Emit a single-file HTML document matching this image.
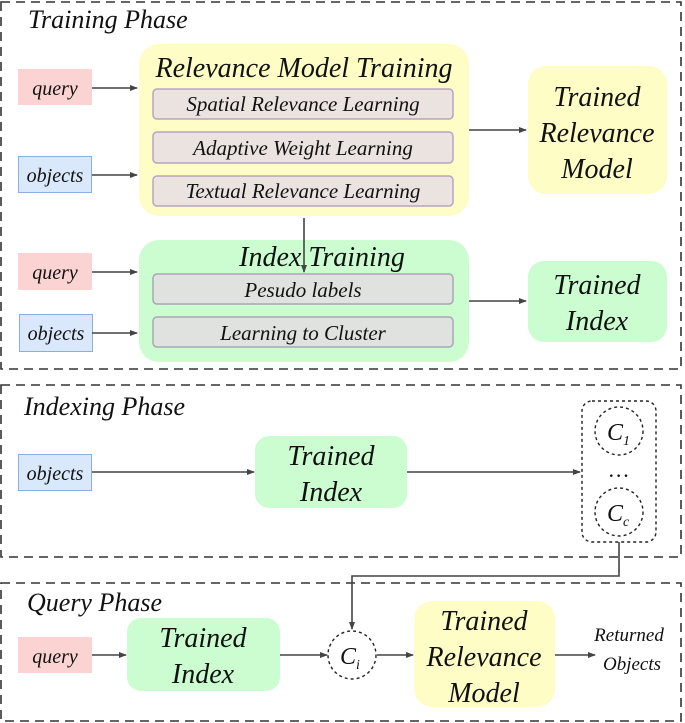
<!DOCTYPE html>
<html><head><meta charset="utf-8"><style>
html,body{margin:0;padding:0;background:#fff}
svg{display:block}
text{font-family:"Liberation Serif",serif;font-style:italic;fill:#111}
</style></head><body>
<svg width="685" height="723" viewBox="0 0 685 723" xmlns="http://www.w3.org/2000/svg">
<defs>
<marker id="a" markerWidth="8" markerHeight="8" refX="7" refY="4" orient="auto" markerUnits="userSpaceOnUse">
<path d="M0,1 L8,4 L0,7 z" fill="#444"/></marker>
</defs>
<g fill="none" stroke="#333" stroke-width="1.6" stroke-dasharray="9,6">
<rect x="1" y="2" width="680" height="367"/>
<rect x="1" y="385" width="680" height="172"/>
<rect x="1" y="583" width="680" height="138"/>
</g>
<text x="28" y="28" font-size="26">Training Phase</text>
<text x="24" y="415" font-size="26">Indexing Phase</text>
<text x="27" y="611" font-size="26">Query Phase</text>

<!-- training inputs -->
<rect x="18" y="69" width="74" height="36" fill="#fbd3d3"/>
<text x="55" y="95" font-size="20" text-anchor="middle">query</text>
<rect x="18.5" y="156.5" width="73" height="36" fill="#dae8fc" stroke="#8aaee0"/>
<text x="55" y="182" font-size="20" text-anchor="middle">objects</text>
<rect x="18" y="253" width="74" height="37" fill="#fbd3d3"/>
<text x="55" y="279" font-size="20" text-anchor="middle">query</text>
<rect x="19.5" y="314.5" width="73" height="37" fill="#dae8fc" stroke="#8aaee0"/>
<text x="56" y="340" font-size="20" text-anchor="middle">objects</text>

<g stroke="#444" stroke-width="1.6" fill="none" marker-end="url(#a)">
<line x1="92" y1="88" x2="137" y2="88"/>
<line x1="92" y1="175" x2="137" y2="175"/>
<line x1="92" y1="272" x2="137" y2="272"/>
<line x1="92" y1="333" x2="137" y2="333"/>
<line x1="469" y1="130" x2="526" y2="130"/>
<line x1="469" y1="301" x2="526" y2="301"/>
</g>

<!-- relevance model training -->
<rect x="139" y="44" width="330" height="172" rx="20" fill="#fefdc6"/>
<text x="304" y="77" font-size="28" text-anchor="middle">Relevance Model Training</text>
<g fill="#ebe3e0" stroke="#b9a3c3" stroke-width="1.5">
<rect x="153" y="89" width="300" height="30" rx="4"/>
<rect x="153" y="132" width="300" height="31" rx="4"/>
<rect x="153" y="176" width="300" height="30" rx="4"/>
</g>
<text x="303" y="111" font-size="21" text-anchor="middle">Spatial Relevance Learning</text>
<text x="303" y="155" font-size="21" text-anchor="middle">Adaptive Weight Learning</text>
<text x="303" y="198" font-size="21" text-anchor="middle">Textual Relevance Learning</text>

<rect x="528" y="66" width="139" height="128" rx="18" fill="#fefdc6"/>
<text x="597" y="106" font-size="28" text-anchor="middle">Trained</text>
<text x="597" y="142" font-size="28" text-anchor="middle">Relevance</text>
<text x="597" y="178" font-size="28" text-anchor="middle">Model</text>

<!-- index training -->
<rect x="139" y="240" width="330" height="122" rx="20" fill="#ccfdd0"/>
<text x="322" y="266" font-size="28" text-anchor="middle">Index  Training</text>
<g fill="#dfe2df" stroke="#aaa6b5" stroke-width="1.5">
<rect x="153" y="274" width="300" height="30" rx="4"/>
<rect x="153" y="317" width="300" height="30" rx="4"/>
</g>
<text x="303" y="297" font-size="21" text-anchor="middle">Pesudo labels</text>
<text x="303" y="340" font-size="21" text-anchor="middle">Learning to Cluster</text>
<line x1="304" y1="218" x2="304" y2="272" stroke="#444" stroke-width="1.6" marker-end="url(#a)"/>

<rect x="528" y="261" width="139" height="81" rx="16" fill="#ccfdd0"/>
<text x="597" y="294" font-size="28" text-anchor="middle">Trained</text>
<text x="597" y="330" font-size="28" text-anchor="middle">Index</text>

<!-- indexing phase -->
<rect x="18.5" y="454.5" width="73" height="36" fill="#dae8fc" stroke="#8aaee0"/>
<text x="55" y="480" font-size="20" text-anchor="middle">objects</text>
<rect x="255" y="436" width="152" height="72" rx="14" fill="#ccfdd0"/>
<text x="331" y="465" font-size="28" text-anchor="middle">Trained</text>
<text x="331" y="501" font-size="28" text-anchor="middle">Index</text>
<g stroke="#444" stroke-width="1.6" fill="none" marker-end="url(#a)">
<line x1="92" y1="472" x2="254" y2="472"/>
<line x1="407" y1="472" x2="580" y2="472"/>
</g>
<g fill="none" stroke="#222" stroke-width="1.4" stroke-dasharray="3,3">
<rect x="582" y="401" width="74" height="141" rx="10"/>
<ellipse cx="619" cy="431" rx="24" ry="24"/>
<ellipse cx="619" cy="512" rx="24" ry="24"/>
<circle cx="352" cy="655" r="24"/>
</g>
<text x="607" y="440" font-size="24">C<tspan font-size="14" dy="5">1</tspan></text>
<text x="607" y="521" font-size="24">C<tspan font-size="14" dy="5">c</tspan></text>
<text x="619" y="477" font-size="22" text-anchor="middle">…</text>
<polyline points="619,542 619,576 352,576 352,629" fill="none" stroke="#444" stroke-width="1.6" marker-end="url(#a)"/>

<!-- query phase -->
<rect x="18" y="637" width="74" height="36" fill="#fbd3d3"/>
<text x="55" y="663" font-size="20" text-anchor="middle">query</text>
<rect x="127" y="618" width="153" height="73" rx="14" fill="#ccfdd0"/>
<text x="203" y="647" font-size="28" text-anchor="middle">Trained</text>
<text x="203" y="683" font-size="28" text-anchor="middle">Index</text>
<text x="340" y="664" font-size="24">C<tspan font-size="14" dy="5">i</tspan></text>
<rect x="414" y="601" width="141" height="106" rx="18" fill="#fefdc6"/>
<text x="484" y="630" font-size="28" text-anchor="middle">Trained</text>
<text x="484" y="666" font-size="28" text-anchor="middle">Relevance</text>
<text x="484" y="702" font-size="28" text-anchor="middle">Model</text>
<g stroke="#444" stroke-width="1.6" fill="none" marker-end="url(#a)">
<line x1="92" y1="655" x2="126" y2="655"/>
<line x1="280" y1="655" x2="327" y2="655"/>
<line x1="377" y1="655" x2="413" y2="655"/>
<line x1="555" y1="655" x2="595" y2="655"/>
</g>
<text x="629" y="641" font-size="19" text-anchor="middle">Returned</text>
<text x="632" y="670" font-size="19" text-anchor="middle">Objects</text>
</svg>
</body></html>
